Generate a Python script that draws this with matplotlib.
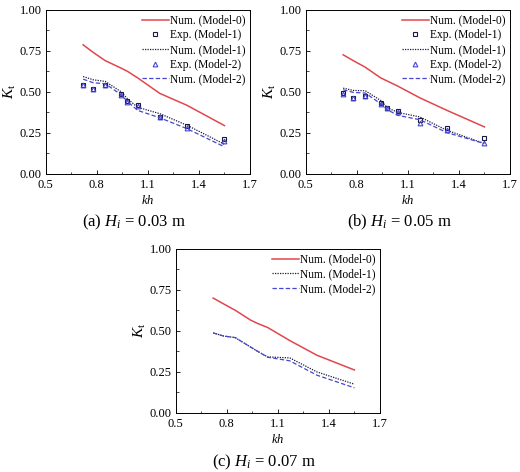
import matplotlib
matplotlib.use("Agg")
import matplotlib.pyplot as plt
from matplotlib.ticker import FixedLocator, FormatStrFormatter

plt.rcParams['font.family'] = ['Liberation Serif', 'DejaVu Serif']
plt.rcParams['mathtext.fontset'] = 'custom'
plt.rcParams['mathtext.rm'] = 'Liberation Serif'
plt.rcParams['mathtext.it'] = 'Liberation Serif:italic'

# kh values (shared by all panels)
kh = [0.72, 0.78, 0.85, 0.94, 0.98, 1.04, 1.17, 1.33, 1.55]

# panel (a) Hi = 0.03 m
num0_a = [0.787, 0.740, 0.690, 0.646, 0.625, 0.585, 0.490, 0.417, 0.293]
exp1_a = [0.541, 0.516, 0.543, 0.488, 0.445, 0.421, 0.348, 0.289, 0.213]
num1_a = [0.593, 0.573, 0.563, 0.502, 0.457, 0.405, 0.366, 0.295, 0.179]
exp2_a = [0.540, 0.515, 0.540, 0.483, 0.440, 0.412, 0.343, 0.280, 0.200]
num2_a = [0.577, 0.555, 0.549, 0.484, 0.441, 0.386, 0.341, 0.274, 0.163]

# panel (b) Hi = 0.05 m
num0_b = [0.726, 0.690, 0.650, 0.585, 0.565, 0.535, 0.463, 0.386, 0.285]
exp1_b = [0.492, 0.463, 0.474, 0.431, 0.402, 0.382, 0.325, 0.280, 0.215]
num1_b = [0.522, 0.508, 0.506, 0.447, 0.402, 0.374, 0.346, 0.264, 0.183]
exp2_b = [0.488, 0.461, 0.472, 0.425, 0.400, 0.378, 0.311, 0.264, 0.189]
num2_b = [0.512, 0.496, 0.492, 0.427, 0.390, 0.356, 0.329, 0.250, 0.183]

# panel (c) Hi = 0.07 m (numerical only)
num0_c = [0.700, 0.665, 0.625, 0.565, 0.545, 0.520, 0.440, 0.350, 0.260]
num1_c = [0.487, 0.468, 0.458, 0.400, 0.375, 0.340, 0.334, 0.248, 0.173]
num2_c = [0.487, 0.468, 0.458, 0.400, 0.375, 0.338, 0.316, 0.228, 0.151]

xticks = [0.5, 0.8, 1.1, 1.4, 1.7]
yticks = [0.0, 0.25, 0.5, 0.75, 1.0]

red = '#e0474c'
navy = '#1a1a40'
blue = '#4646d2'

fig = plt.figure(figsize=(5.2, 4.72), dpi=100)
W, H = 520, 472


def make_axes(left, top, right, bottom):
    return fig.add_axes([left / W, 1 - bottom / H, (right - left) / W, (bottom - top) / H])


def style(ax):
    ax.set_xlim(0.5, 1.7)
    ax.set_ylim(0.0, 1.0)
    ax.xaxis.set_major_locator(FixedLocator(xticks))
    ax.xaxis.set_minor_locator(FixedLocator([x + 0.15 for x in xticks[:-1]]))
    ax.yaxis.set_major_locator(FixedLocator(yticks))
    ax.yaxis.set_minor_locator(FixedLocator([y + 0.125 for y in yticks[:-1]]))
    ax.xaxis.set_major_formatter(FormatStrFormatter('%.1f'))
    ax.yaxis.set_major_formatter(FormatStrFormatter('%.2f'))
    ax.tick_params(which='both', direction='in', labelsize=9)
    ax.tick_params(axis='x', pad=4)
    ax.tick_params(axis='y', pad=3)
    ax.tick_params(which='major', length=3, width=0.6)
    ax.tick_params(which='minor', length=1.8, width=0.5)
    for s in ax.spines.values():
        s.set_linewidth(0.7)
    ax.set_xlabel('$kh$', fontsize=9, labelpad=2)
    ax.set_ylabel('$K_\\mathrm{t}$', fontsize=11, labelpad=1)


def panel(ax, n0, n1, n2, e1=None, e2=None):
    ax.plot(kh, n0, color=red, lw=1.1, label='Num. (Model-0)')
    if e1 is not None:
        ax.plot(kh, e1, ls='none', marker='s', ms=3.2, mfc='none', mec=navy, mew=0.8,
                label='Exp. (Model-1)')
    ax.plot(kh, n1, color=navy, lw=0.9, ls=(0, (1, 1)), label='Num. (Model-1)')
    if e2 is not None:
        ax.plot(kh, e2, ls='none', marker='^', ms=3.4, mfc='none', mec=blue, mew=0.8,
                label='Exp. (Model-2)')
    ax.plot(kh, n2, color=blue, lw=0.9, ls=(0, (3.5, 1.8)), label='Num. (Model-2)')
    ax.legend(loc='upper right', frameon=False, fontsize=8.3, handlelength=2.3,
              handletextpad=0.1, labelspacing=0.23, borderaxespad=0.3,
              borderpad=0.1)
    style(ax)


ax_a = make_axes(45.7, 10, 250, 173.5)
panel(ax_a, num0_a, num1_a, num2_a, exp1_a, exp2_a)
ax_b = make_axes(305.7, 10, 510, 173.5)
panel(ax_b, num0_b, num1_b, num2_b, exp1_b, exp2_b)
ax_c = make_axes(175.7, 249, 380, 412.5)
panel(ax_c, num0_c, num1_c, num2_c)

fig.text(134 / W, 1 - 222 / H, '(a) $H_i$ = 0.03 m', ha='center', va='center', fontsize=12)
fig.text(399 / W, 1 - 222 / H, '(b) $H_i$ = 0.05 m', ha='center', va='center', fontsize=12)
fig.text(264 / W, 1 - 462 / H, '(c) $H_i$ = 0.07 m', ha='center', va='center', fontsize=12)

fig.savefig('out.png', dpi=100)
